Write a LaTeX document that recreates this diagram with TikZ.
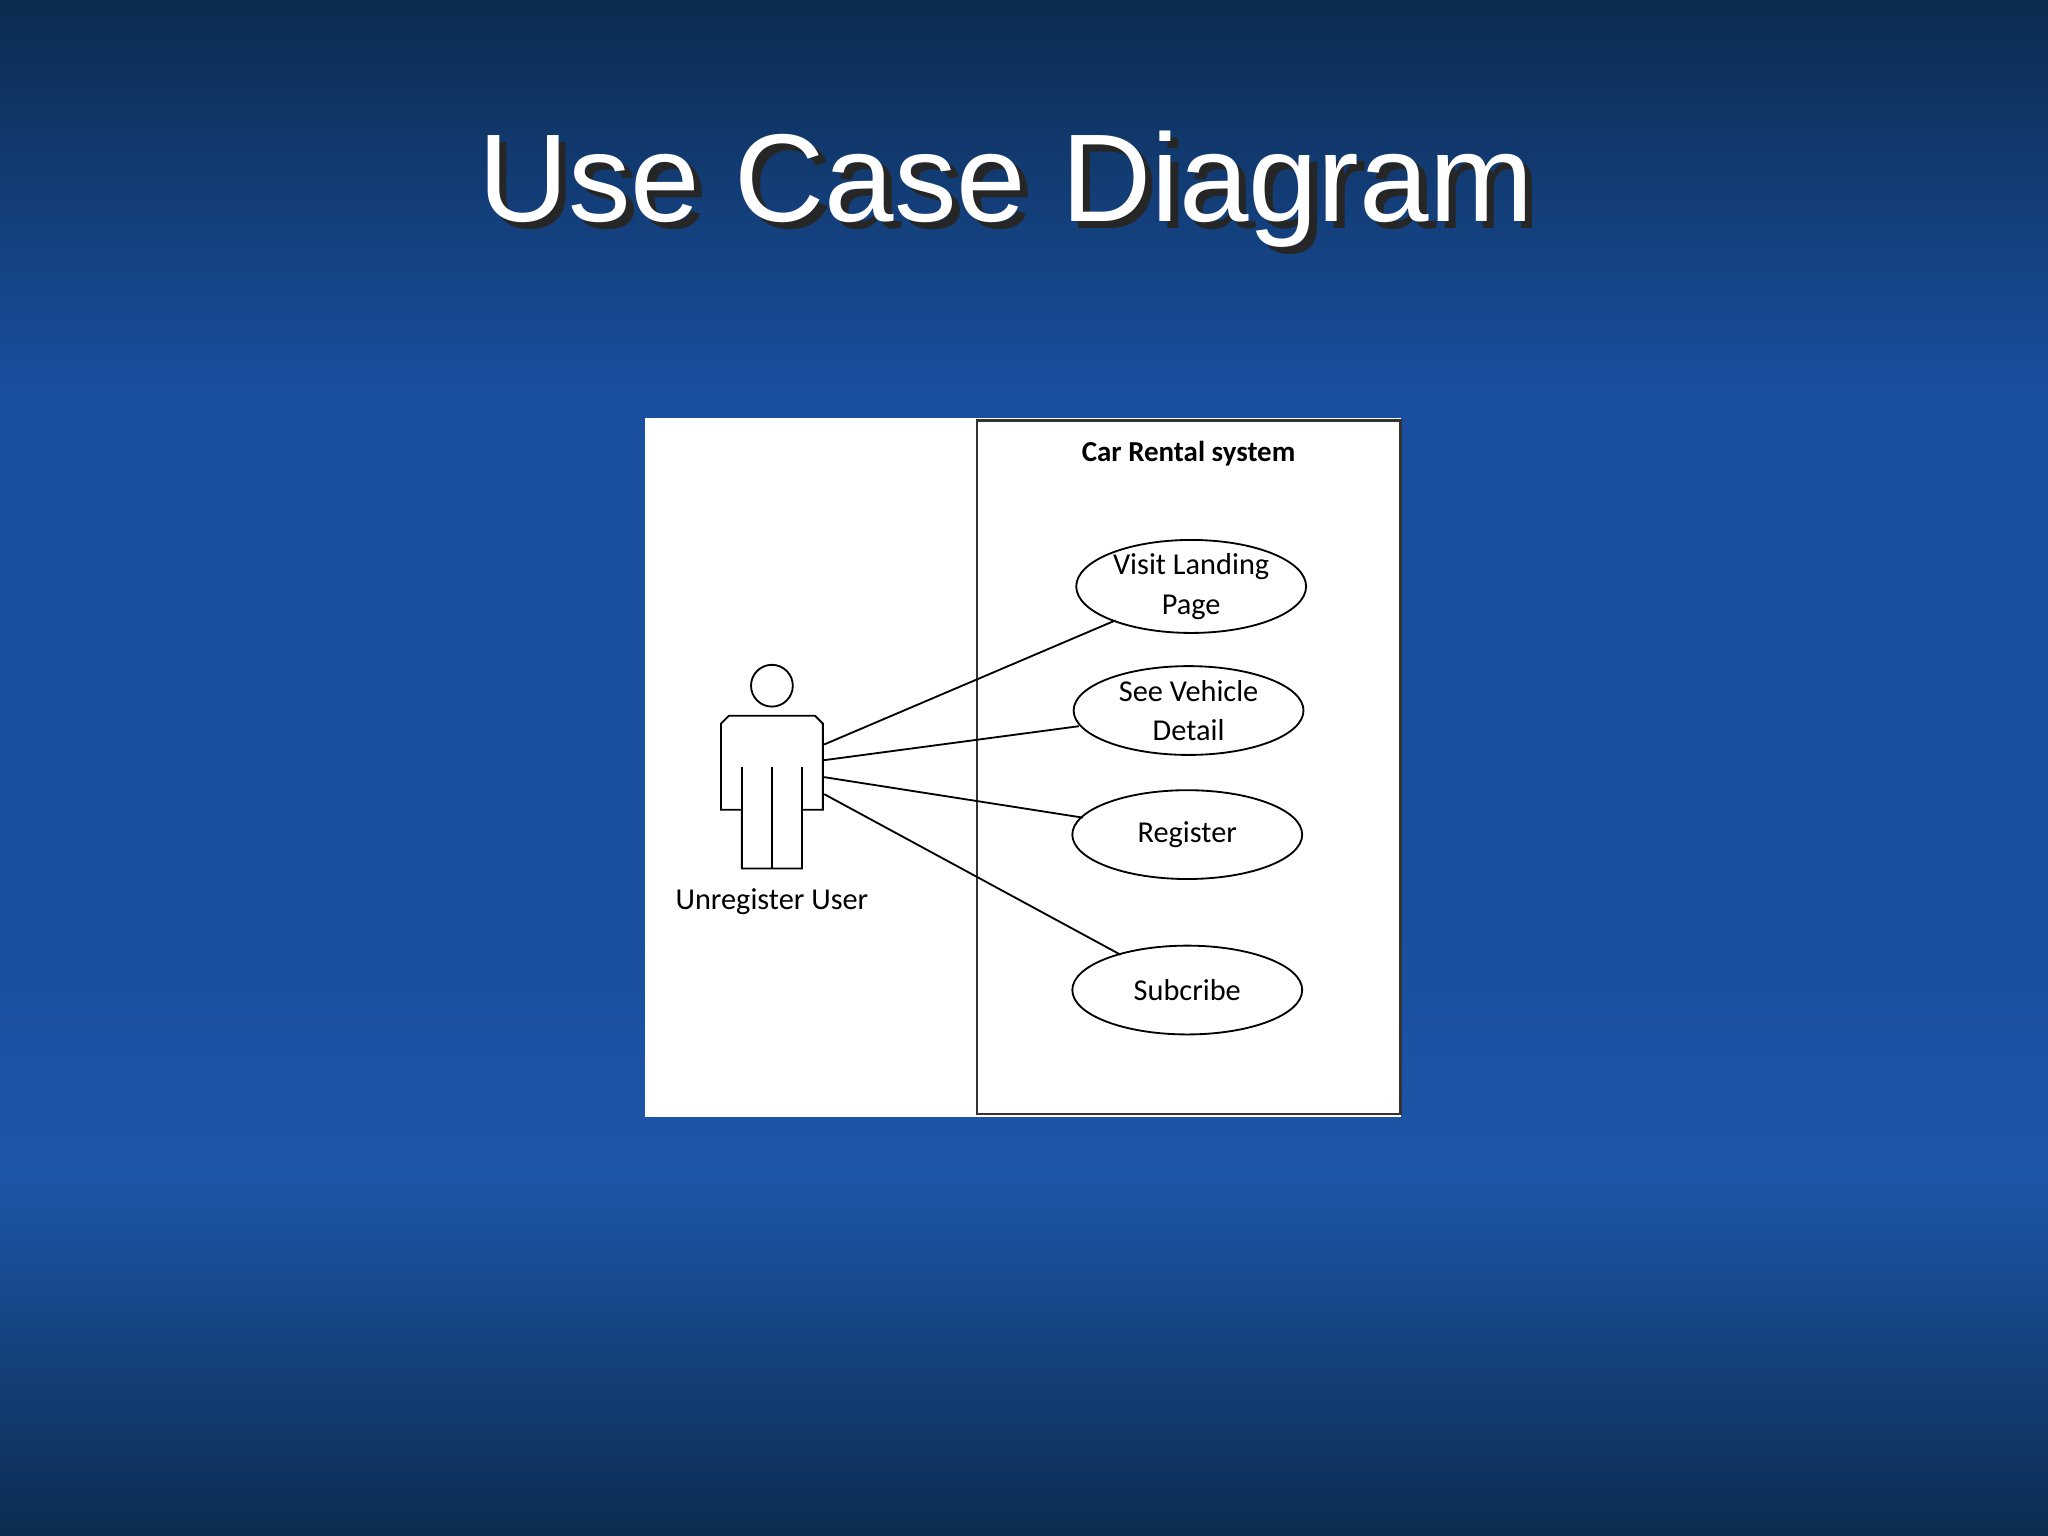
\documentclass[tikz,border=0pt]{standalone}
\usepackage{fontspec}
\setmainfont{Carlito}
\newfontfamily\titlefont{Liberation Sans}
\usetikzlibrary{shapes.geometric}
\definecolor{navy}{HTML}{0B2C50}
\definecolor{midblue}{HTML}{1A4E9E}
\definecolor{midblue2}{HTML}{1E56A8}
\newlength\pxu \setlength\pxu{0.01cm}
\tikzset{
  uc/.style={draw,ellipse,minimum width=176\pxu,minimum height=68\pxu,inner sep=0pt,align=center,font=\fontsize{6.6}{8.6}\selectfont},
  ln/.style={draw,line width=0.4pt}
}
\begin{document}
\begin{tikzpicture}[x=0.01cm,y=-0.01cm]
\useasboundingbox (0,0) rectangle (1568,1176);
\shade[top color=navy,bottom color=midblue] (0,0) rectangle (1568,300);
\fill[midblue] (0,300) rectangle (1568,700);
\shade[top color=midblue,bottom color=midblue2] (0,700) rectangle (1568,900);
\shade[top color=midblue2,bottom color=navy] (0,900) rectangle (1568,1176);
\node[font=\titlefont\fontsize{27.2}{31}\selectfont,text=black!85] at (776,150) {Use Case Diagram};
\node[font=\titlefont\fontsize{27.2}{31}\selectfont,text=white] (title) at (770,145) {Use Case Diagram};
\fill[white] (494,320) rectangle (1073,855);
\draw[line width=0.6pt,black!80] (748,322) rectangle (1072,853);
\node[font=\bfseries\fontsize{6.3}{7}\selectfont] (sys) at (910,347) {Car Rental system};
\node[uc] (u1) at (912,449) {Visit Landing\\Page};
\node[uc] (u2) at (910,544) {See Vehicle\\Detail};
\node[uc] (u3) at (909,639) {Register};
\node[uc] (u4) at (909,758) {Subcribe};
% actor
\draw[ln] (591,525) circle (16);
\draw[ln] (558,548)--(624,548)--(630,554)--(630,620)--(614,620)--(614,665)--(568,665)--(568,620)--(552,620)--(552,554)--cycle;
\draw[ln] (568,587)--(568,620) (614,587)--(614,620) (591,587)--(591,665);
\node[font=\fontsize{6.6}{7.6}\selectfont] (lbl) at (591,690) {Unregister User};
\coordinate (a1) at (631,570);
\coordinate (a2) at (631,582);
\coordinate (a3) at (631,595);
\coordinate (a4) at (631,608);
\coordinate (e1) at (854,475);
\coordinate (e2) at (826,556);
\coordinate (e3) at (829,626);
\coordinate (e4) at (858,731);
\draw[ln] (a1)--(e1);
\draw[ln] (a2)--(e2);
\draw[ln] (a3)--(e3);
\draw[ln] (a4)--(e4);
\end{tikzpicture}
\end{document}
